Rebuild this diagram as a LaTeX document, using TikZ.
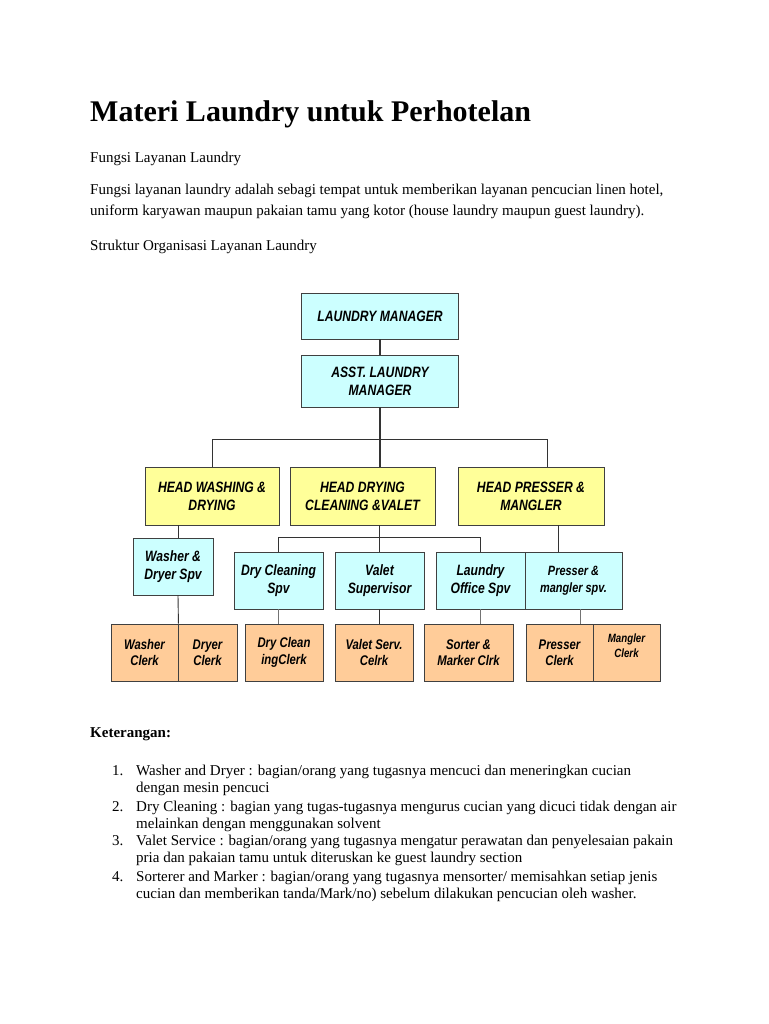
\documentclass[tikz,border=0pt]{standalone}
\usepackage{fontspec}
\setmainfont{Liberation Serif}
\newfontfamily\chartfont[FakeStretch=0.81]{Liberation Sans}
\definecolor{cyanbox}{RGB}{204,255,255}
\definecolor{yellowbox}{RGB}{255,255,153}
\definecolor{orangebox}{RGB}{255,204,153}
\definecolor{linegray}{RGB}{51,51,51}
\begin{document}
\begin{tikzpicture}[x=1pt,y=-1pt,
  box/.style={draw=black!75, line width=0.9pt, inner sep=1pt, align=center,
    font=\chartfont\bfseries\itshape\fontsize{15}{18}\selectfont},
  cbox/.style={box, fill=cyanbox},
  ybox/.style={box, fill=yellowbox},
  obox/.style={box, fill=orangebox, font=\chartfont\bfseries\itshape\fontsize{14}{16.5}\selectfont},
  conn/.style={draw=linegray, line width=1.1pt},
  thin/.style={conn, line width=0.8pt, draw=black!55},
  txt/.style={anchor=base west, inner sep=0pt, font=\fontsize{15}{18}\selectfont},
]
\fill[white] (0,0) rectangle (768,1024);
\useasboundingbox (0,0) rectangle (768,1024);

% texts
\node[txt, font=\bfseries\fontsize{30}{34}\selectfont] (title) at (90,122) {Materi Laundry untuk Perhotelan};
\node[txt] (t1) at (90,163) {Fungsi Layanan Laundry};
\node[txt] (t2) at (90,195) {Fungsi layanan laundry adalah sebagi tempat untuk memberikan layanan pencucian linen hotel,};
\node[txt] (t3) at (90,216) {uniform karyawan maupun pakaian tamu yang kotor (house laundry maupun guest laundry).};
\node[txt] (t4) at (90,250) {Struktur Organisasi Layanan Laundry};

% chart boxes
\node[cbox, minimum width=157, minimum height=46] (lm) at (380,316) {LAUNDRY MANAGER};
\node[cbox, minimum width=157, minimum height=52] (asst) at (380,381) {ASST. LAUNDRY\\MANAGER};
\node[ybox, minimum width=134, minimum height=58] (hw) at (212,496) {HEAD WASHING \&\\DRYING};
\node[ybox, minimum width=145, minimum height=58] (hd) at (362.5,496) {HEAD DRYING\\CLEANING \&VALET};
\node[ybox, minimum width=146, minimum height=58] (hp) at (531,496) {HEAD PRESSER \&\\MANGLER};

\node[cbox, minimum width=80, minimum height=57] (wds) at (173,566.5) {Washer \&\\Dryer Spv};
\node[cbox, minimum width=89, minimum height=57] (dcs) at (278.5,580.5) {Dry Cleaning\\Spv};
\node[cbox, minimum width=89, minimum height=57] (vs) at (379.5,580.5) {Valet\\Supervisor};
\node[cbox, minimum width=89, minimum height=57] (los) at (480.5,580.5) {Laundry\\Office Spv};
\node[cbox, minimum width=97, minimum height=57, font=\chartfont\bfseries\itshape\fontsize{13.5}{17}\selectfont] (pms) at (573.5,580.5) {Presser \&\\mangler spv.};

\node[obox, minimum width=67, minimum height=57] (wc) at (144.5,652.5) {Washer\\Clerk};
\node[obox, minimum width=59, minimum height=57] (dc) at (207.5,652.5) {Dryer\\Clerk};
\node[obox, minimum width=78, minimum height=57] (dcc) at (284,652.5) {Dry Clean\\ingClerk};
\node[obox, minimum width=78, minimum height=57] (vc) at (374,652.5) {Valet Serv.\\Celrk};
\node[obox, minimum width=89, minimum height=57] (sc) at (468.5,652.5) {Sorter \&\\Marker Clrk};
\node[obox, minimum width=67, minimum height=57] (pc) at (559.5,652.5) {Presser\\Clerk};
\node[obox, minimum width=67, minimum height=57] (mc) at (626.5,652.5) {};
\node[align=center, inner sep=0pt, font=\chartfont\bfseries\itshape\fontsize{12}{14.5}\selectfont] (mct) at ([yshift=7pt]mc.center) {Mangler\\Clerk};

% connectors
\draw[conn] (lm.south) -- (asst.north);
\draw[conn] (asst.south) -- (asst.south |- hd.north);
\coordinate (barL) at (hw.north |- 0,439);
\draw[conn, line width=0.9pt] (hw.north) -- (barL) -| ([xshift=16.5pt]hp.north);
\draw[conn, line width=0.9pt] ([xshift=-34pt]hw.south) -- ([xshift=5pt]wds.north);
\draw[conn, line width=0.9pt] ([xshift=5pt]wds.south) -- (wc.north east);
\draw[conn] (vs.north) -- (vs.north |- hd.south);
\draw[conn, line width=0.9pt] (dcs.north) -- ++(0,-14) -| (los.north);
\draw[conn] ([xshift=-15pt]pms.north) -- ([xshift=-15pt]pms.north |- hp.south);
\draw[thin] (dcs.south) -- (dcs.south |- dcc.north);
\draw[conn] (vs.south) -- (vs.south |- vc.north);
\draw[thin] (los.south) -- (los.south |- sc.north);
\draw[thin] ([xshift=7pt]pms.south) -- ([xshift=7pt]pms.south |- pc.north);

% Keterangan
\node[txt, font=\bfseries\fontsize{15}{18}\selectfont] (ket) at (90,737) {Keterangan:};
\node[txt] (n1) at (112,775) {1.};
\node[txt] (l1a) at (136,775) {Washer and Dryer : bagian/orang yang tugasnya mencuci dan meneringkan cucian};
\node[txt] (l1b) at (136,792) {dengan mesin pencuci};
\node[txt] (n2) at (112,811) {2.};
\node[txt] (l2a) at (136,811) {Dry Cleaning : bagian yang tugas-tugasnya mengurus cucian yang dicuci tidak dengan air};
\node[txt] (l2b) at (136,828) {melainkan dengan menggunakan solvent};
\node[txt] (n3) at (112,845) {3.};
\node[txt] (l3a) at (136,845) {Valet Service : bagian/orang yang tugasnya mengatur perawatan dan penyelesaian pakain};
\node[txt] (l3b) at (136,862) {pria dan pakaian tamu untuk diteruskan ke guest laundry section};
\node[txt] (n4) at (112,881) {4.};
\node[txt] (l4a) at (136,881) {Sorterer and Marker : bagian/orang yang tugasnya mensorter/ memisahkan setiap jenis};
\node[txt] (l4b) at (136,898) {cucian dan memberikan tanda/Mark/no) sebelum dilakukan pencucian oleh washer.};
\end{tikzpicture}
\end{document}
